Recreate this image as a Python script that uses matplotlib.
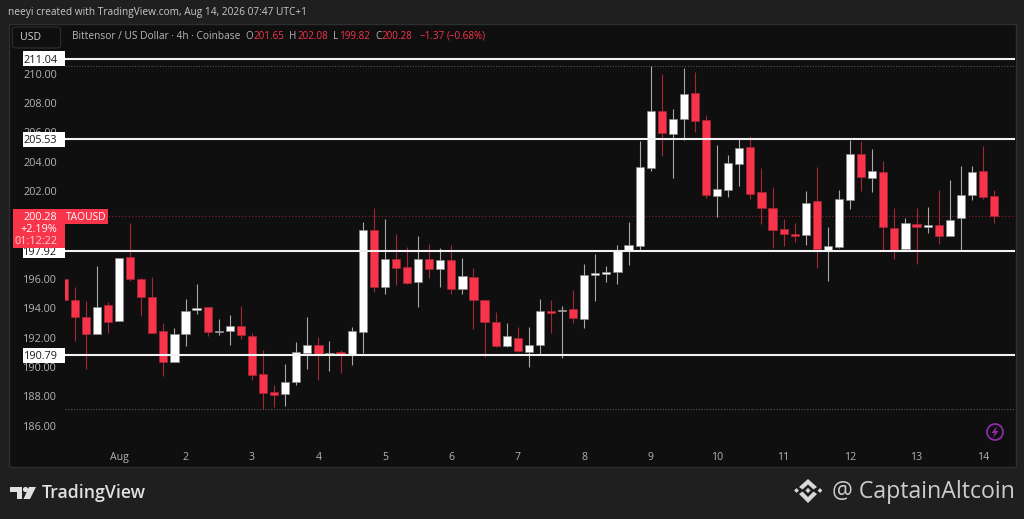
import matplotlib
matplotlib.use("Agg")
import matplotlib.pyplot as plt
from matplotlib.patches import Rectangle, FancyBboxPatch, Polygon, Circle
from matplotlib.transforms import blended_transform_factory

opens = [196.01,194.57,193.43,192.27,194.25,193.12,197.51,196.01,194.80,192.44,190.34,192.23,193.87,194.09,192.41,192.44,192.78,192.12,189.50,188.26,188.18,189.00,190.98,191.48,190.89,191.00,190.80,192.37,199.35,195.46,197.35,196.81,195.78,197.35,196.69,197.30,195.30,196.16,194.55,193.07,191.45,191.96,191.04,191.50,193.82,193.80,193.94,193.25,196.26,196.37,196.50,197.92,198.26,203.56,207.43,205.88,206.88,208.72,206.86,201.67,202.08,203.81,205.00,201.90,200.83,199.40,199.08,199.03,201.31,197.92,198.21,201.42,204.56,202.88,203.31,199.51,198.05,199.74,199.54,199.69,198.92,200.17,201.76,203.38,201.65]
highs = [196.05,195.48,194.50,196.89,194.46,197.46,199.81,196.05,196.12,193.00,192.64,194.64,195.64,194.09,193.26,193.53,194.16,192.30,191.18,188.77,190.18,191.73,193.43,192.03,191.77,191.16,192.73,199.90,200.81,200.08,199.08,198.19,198.92,198.37,198.10,198.33,197.42,196.74,194.57,193.75,193.00,192.73,192.73,194.62,194.57,194.18,195.26,197.01,197.71,196.87,198.33,199.90,205.40,210.55,209.98,207.59,210.39,210.12,207.18,205.13,204.45,205.54,205.77,203.58,202.29,200.10,199.81,201.99,203.63,199.56,202.10,205.49,205.40,204.90,204.08,200.85,200.19,200.85,200.90,202.08,202.74,203.74,203.74,205.07,202.08]
lows = [194.55,191.79,189.88,192.25,192.34,193.12,195.89,193.50,192.30,189.41,190.34,191.45,193.60,192.12,192.16,191.52,191.89,189.11,187.13,187.29,187.34,188.77,189.86,189.11,189.75,189.61,190.16,190.98,195.14,195.00,195.60,195.67,194.07,196.05,195.44,195.00,194.96,192.59,190.70,191.39,191.37,191.02,190.02,190.91,192.30,190.64,193.02,192.68,194.52,195.82,195.69,196.96,197.94,203.40,204.38,202.88,205.45,206.04,201.53,200.26,201.62,202.33,201.45,199.76,198.08,198.28,198.51,198.35,196.78,195.87,198.12,200.74,202.03,201.90,197.99,197.35,198.05,197.05,199.13,198.39,198.92,197.92,201.42,201.47,199.82]
closes = [194.57,193.43,192.23,194.09,193.05,197.46,195.99,194.80,192.34,190.32,192.27,193.82,194.05,192.39,192.46,192.78,192.16,189.47,188.23,188.07,189.00,191.00,191.48,190.82,190.98,190.89,192.46,199.35,195.46,197.35,196.76,195.75,197.35,196.71,197.26,195.34,196.19,194.59,193.05,191.41,192.10,191.07,191.52,193.82,193.71,193.91,193.32,196.26,196.42,196.50,197.98,198.31,203.65,207.47,205.97,206.88,208.65,206.81,201.76,202.17,203.92,204.95,201.83,200.83,199.37,199.08,198.96,201.17,198.05,198.24,201.47,204.56,202.97,203.36,199.54,197.94,199.83,199.54,199.69,198.92,200.05,201.74,203.29,201.62,200.28]
key_levels = [211.04, 205.53, 197.92, 190.79]
key_labels = ["211.04", "205.53", "197.92", "190.79"]
price_ticks = [186, 188, 190, 192, 194, 196, 202, 204, 206, 208, 210]
day_ticks = [5, 11, 17, 23, 29, 35, 41, 47, 53, 59, 65, 71, 77, 83]
day_labels = ["Aug", "2", "3", "4", "5", "6", "7", "8", "9", "10", "11", "12", "13", "14"]
last_price, period_high, period_low = 200.28, 210.55, 187.13

FONT = "Open Sans"
plt.rcParams["font.family"] = FONT
BG, PANEL, RED, GREY = "#1f1f1f", "#0f0f0f", "#f7344a", "#b4b4b4"
W, H = 1024, 519
fig = plt.figure(figsize=(W/100, H/100), dpi=100, facecolor=BG)
fx = lambda x: x / W
fy = lambda y: 1 - y / H

# panel frame
fig.add_artist(Rectangle((fx(9), fy(467)), (1015.5-9)/W, (467-23.5)/H, transform=fig.transFigure,
                         facecolor=PANEL, edgecolor="#2e2e2e", linewidth=1, zorder=-1))

ax = fig.add_axes([fx(65), fy(467), (1015-65)/W, (467-23.5)/H], facecolor="none")
ax.set_zorder(2)
ax.set_xlim(0.12, 85.89)
ax.set_ylim(183.17, 213.43)
for s in ax.spines.values():
    s.set_visible(False)

# candles
for i, (o, h, l, c) in enumerate(zip(opens, highs, lows, closes)):
    up = c >= o
    col = "#ffffff" if up else RED
    wick = "#a8a8a8" if up else "#a82535"
    ax.vlines(i, l, h, color=wick, linewidth=0.8, zorder=2)
    ax.bar(i, abs(c - o), bottom=min(o, c), width=0.74, color=col,
           edgecolor="#8a8a8a" if up else "#a82535", linewidth=0.5, zorder=3)

# reference lines
ax.axhline(last_price, color="#8c2030", lw=0.8, ls=(0, (1, 2)), zorder=1)
ax.axhline(period_high, color="#555555", lw=0.8, ls=(0, (1, 1.5)), zorder=1)
ax.axhline(period_low, color="#555555", lw=0.8, ls=(0, (1, 1.5)), zorder=1)
for lv in key_levels:
    ax.axhline(lv, color="#f2f2f2", lw=1.5, zorder=4)

ax.set_yticks(price_ticks)
ax.set_yticklabels([f"{p:.2f}" for p in price_ticks])
ax.set_xticks(day_ticks)
ax.set_xticklabels(day_labels)
ax.tick_params(axis="y", length=0, pad=5.8, labelsize=7.8, labelcolor=GREY)
ax.tick_params(axis="x", length=0, pad=-11, labelsize=7.6, labelcolor=GREY)

# level boxes
tr = blended_transform_factory(ax.transAxes, ax.transData)
px = 1 / 950
unit = 1 / 14.65
for lv, lab in zip(key_levels, key_labels):
    ax.add_patch(Rectangle((-42.5*px, lv - 7.5*unit), 42*px, 15*unit, transform=tr, facecolor="#ffffff",
                           edgecolor="none", clip_on=False, zorder=6))
    ax.text(-7.5*px, lv, lab, transform=tr, ha="right", va="center_baseline", fontsize=7.8, color="#1a1a1a", zorder=7)

# last price tag
ax.add_patch(Rectangle((-52*px, last_price - 31.5*unit), 51.5*px, 39*unit, transform=tr, facecolor=RED,
                       edgecolor="none", clip_on=False, zorder=8))
ax.text(-7.5*px, last_price, f"{last_price:.2f}", transform=tr, ha="right", va="center_baseline", fontsize=7.8, color="white", zorder=9)
ax.text(-7.5*px, last_price - 12*unit, "+2.19%", transform=tr, ha="right", va="center_baseline", fontsize=7.8, color="white", zorder=9)
ax.text(-7.5*px, last_price - 24*unit, "01:12:22", transform=tr, ha="right", va="center_baseline", fontsize=7.8, color="#ffd0d5", zorder=9)
ax.add_patch(Rectangle((0, last_price - 7.5*unit), 43*px, 15*unit, transform=tr, facecolor=RED,
                       edgecolor="none", clip_on=False, zorder=8))
ax.text(21.5*px, last_price, "TAOUSD", transform=tr, ha="center", va="center_baseline", fontsize=7.4, color="white", zorder=9)

# header
fig.text(fx(8), fy(13), "neeyi created with TradingView.com, Aug 14, 2026 07:47 UTC+1",
         fontsize=7.25, color="#c8c8c8", va="center")
fig.add_artist(FancyBboxPatch((fx(12.5), fy(48)), 48/W, 21/H, boxstyle="round,pad=0,rounding_size=0.004",
                              transform=fig.transFigure, facecolor=PANEL, edgecolor="#2c2c2c", linewidth=0.9))
fig.text(fx(20), fy(38), "USD", fontsize=7.6, color="#d0d0d0", va="center")
fig.text(fx(72), fy(36.5), "Bittensor / US Dollar · 4h · Coinbase", fontsize=7.25, color="#b8b8b8", va="center")
for x, s, col in [(245, "O", GREY), (253, "201.65", RED), (289, "H", GREY), (297, "202.08", RED),
                  (333, "L", GREY), (339, "199.82", RED), (375, "C", GREY), (382, "200.28", RED),
                  (419, "−1.37", RED), (447, "(−0.68%)", RED)]:
    fig.text(fx(x), fy(36.5), s, fontsize=7.15, color=col, va="center")

# bolt icon
fig.add_artist(Circle((995, 519-432), 8, transform=None, facecolor="none", edgecolor="#8e2aa8", linewidth=1.3))
bolt = [(997, 426), (991.5, 433), (994.5, 433), (993, 438), (998.5, 431), (995.5, 431)]
fig.add_artist(Polygon([(fx(a), fy(b)) for a, b in bolt], transform=fig.transFigure, facecolor="#8e2aa8", edgecolor="none"))

# TradingView logo
LOGO = "#e0e0e0"
def poly(pts, col=LOGO):
    fig.add_artist(Polygon([(fx(a), fy(b)) for a, b in pts], transform=fig.transFigure, facecolor=col, edgecolor="none"))
poly([(10, 487), (22, 487), (22, 499), (16.5, 499), (16.5, 492), (10, 492)])
fig.add_artist(Circle((25.5, 519-489.5), 2.6, transform=None, facecolor=LOGO, edgecolor="none"))
poly([(29, 487), (36, 487), (30, 499), (23.5, 499)])
fig.text(fx(42), fy(493), "TradingView", fontsize=12.7, fontweight="semibold", color=LOGO, va="center")

# CaptainAltcoin watermark
def diamond(cx, cy, r, col="#d8d8d8"):
    poly([(cx, cy - r), (cx + r, cy), (cx, cy + r), (cx - r, cy)], col)
diamond(796.5, 490.5, 2.4); diamond(820, 490.5, 2.4)
poly([(808, 479), (817, 487), (813.5, 489.5), (808, 484.5), (802.5, 489.5), (799, 487)], "#d8d8d8")
poly([(808, 503), (817, 494), (813.5, 491.5), (808, 497), (802.5, 491.5), (799, 494)], "#d8d8d8")
diamond(808, 490.5, 2.6)
fig.text(fx(1015), fy(492), "@ CaptainAltcoin", fontsize=16.7, color="#cccccc", ha="right", va="center")

fig.savefig("out.png", dpi=100, facecolor=BG)
